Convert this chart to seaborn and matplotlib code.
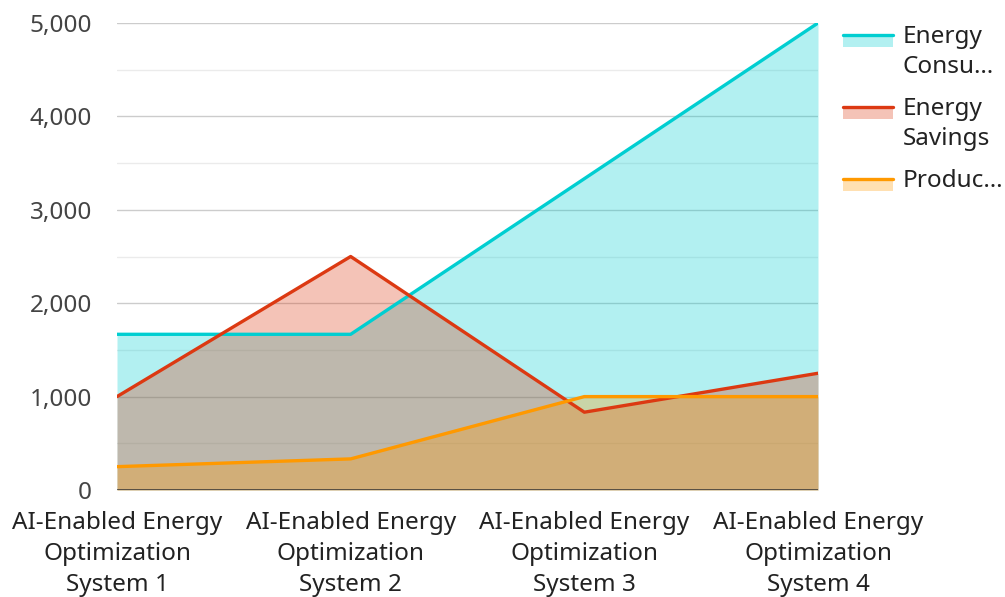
import matplotlib
matplotlib.use("Agg")
import matplotlib.pyplot as plt
import seaborn as sns
import pandas as pd
import numpy as np
from matplotlib.patches import Rectangle
from matplotlib.lines import Line2D

categories = ["AI-Enabled Energy\nOptimization\nSystem 1",
              "AI-Enabled Energy\nOptimization\nSystem 2",
              "AI-Enabled Energy\nOptimization\nSystem 3",
              "AI-Enabled Energy\nOptimization\nSystem 4"]
energy_consumption = [1667, 1667, 3333, 5000]
energy_savings = [1000, 2500, 833, 1250]
productivity = [250, 333, 1000, 1000]
series_names = ["Energy Consumption", "Energy Savings", "Productivity"]
legend_labels = ["Energy\nConsu…", "Energy\nSavings", "Produc…"]
colors = ["#00CED1", "#DC3912", "#FF9900"]
y_ticks = [0, 1000, 2000, 3000, 4000, 5000]

sns.set_theme(style="white")
plt.rcParams['font.family'] = ['Noto Sans', 'DejaVu Sans']

FS = 17.5
W, H = 1005, 597

x = np.arange(len(categories))
df = pd.DataFrame({
    "x": np.tile(x, 3),
    "value": energy_consumption + energy_savings + productivity,
    "series": np.repeat(series_names, len(categories)),
})

fig = plt.figure(figsize=(W / 100, H / 100), dpi=100)
ax = fig.add_axes([117 / W, 1 - 490 / H, (818 - 117) / W, (490 - 23) / H])

# grid
for v in np.arange(500, 5001, 1000):
    ax.axhline(v, color="#ebebeb", lw=1, zorder=0)
for v in y_ticks[1:]:
    ax.axhline(v, color="#cccccc", lw=1, zorder=0)

for name, c, vals in zip(series_names, colors, [energy_consumption, energy_savings, productivity]):
    ax.fill_between(x, 0, vals, color=c, alpha=0.3, lw=0, zorder=1)

sns.lineplot(data=df, x="x", y="value", hue="series", palette=colors,
             hue_order=series_names, lw=2.4, ax=ax, legend=False, zorder=3)

ax.axhline(0, color="#333333", lw=1.8, zorder=4)

ax.set_xlim(0, 3)
ax.set_ylim(0, 5000)
ax.set_xticks(x)
ax.set_xticklabels(categories, fontsize=FS, color="#222222", linespacing=1.38)
ax.set_yticks(y_ticks)
ax.set_yticklabels([f"{v:,}" for v in y_ticks], fontsize=FS, color="#444444")
ax.tick_params(axis="y", length=0, pad=18)
ax.tick_params(axis="x", length=0, pad=15)
ax.set_xlabel("")
ax.set_ylabel("")
for s in ax.spines.values():
    s.set_visible(False)

# legend (drawn in figure pixel coordinates, top-left origin)
def fx(px):
    return px / W

def fy(py):
    return 1 - py / H

line_y = [35, 107, 179]
text_y = [52, 124, 181]
for c, lab, ly, ty in zip(colors, legend_labels, line_y, text_y):
    fig.patches.append(Rectangle((fx(843), fy(ly + 12)), fx(893) - fx(843), fy(ly) - fy(ly + 12),
                                 facecolor=c, alpha=0.3, lw=0, transform=fig.transFigure))
    fig.lines.append(Line2D([fx(843), fx(893)], [fy(ly), fy(ly)],
                            color=c, lw=2.4, transform=fig.transFigure))
    fig.text(fx(903), fy(ty), lab, fontsize=FS, color="#222222", va="center", ha="left",
             linespacing=1.38)

fig.savefig("out.png", dpi=100)
